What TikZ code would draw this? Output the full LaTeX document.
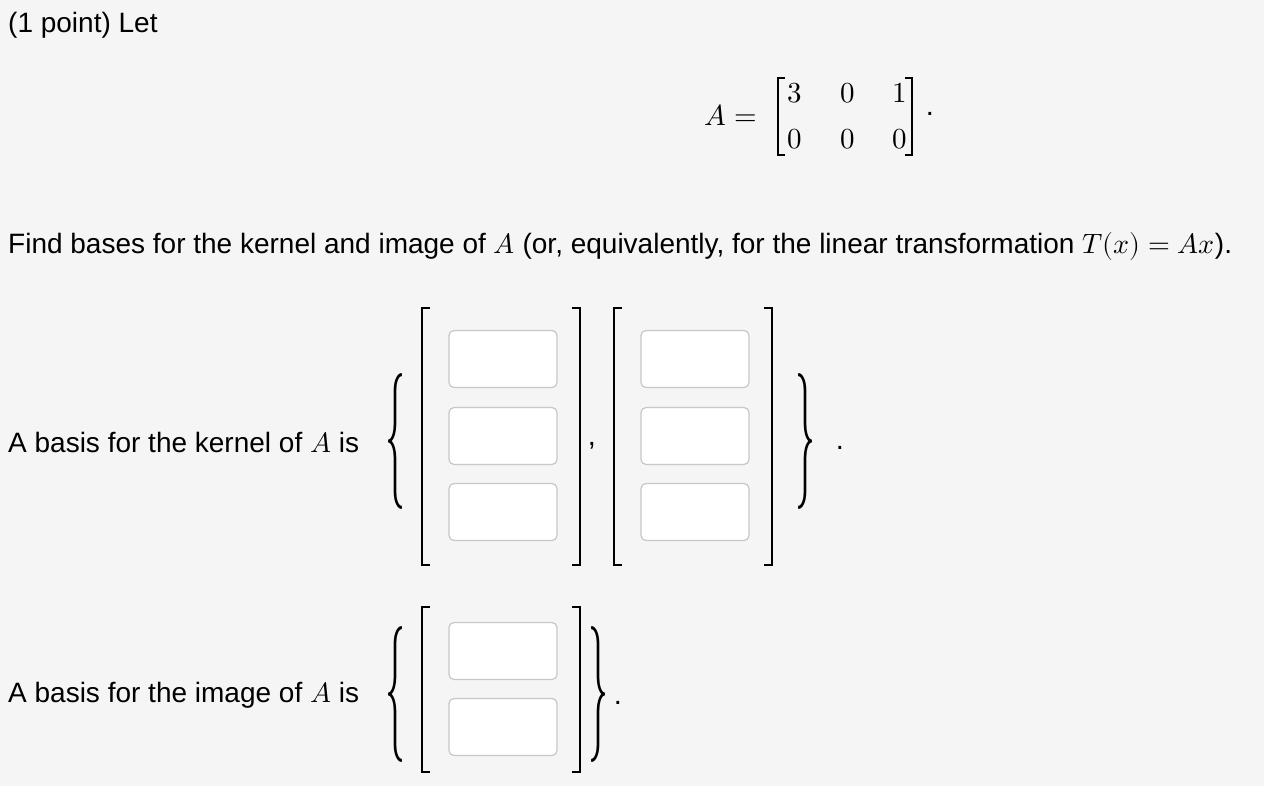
\documentclass[tikz,border=0pt]{standalone}
\usepackage{fontspec}
\setmainfont{Liberation Sans}
\usepackage{unicode-math}
\setmathfont{Latin Modern Math}
\usepackage{graphicx}
\begin{document}
\begin{tikzpicture}[x=1pt,y=-1pt,
  txt/.style={anchor=west,inner sep=0pt,font=\fontsize{28}{34}\selectfont},
  mtx/.style={inner sep=0pt,font=\fontsize{29}{34}\selectfont},
  ibox/.style={draw=black!22,fill=white,rounded corners=5pt,line width=1.2pt,minimum width=108pt,minimum height=57pt,inner sep=0pt},
  brk/.style={line width=1.3pt}]
\fill[fill=black!4] (0,0) rectangle (1264,786);
\useasboundingbox (0,0) rectangle (1264,786);
\node[txt] (t1) at (8,25) {(1 point) Let};
\node[mtx,anchor=east] (aeq) at (757,115) {$A =$};
\draw[brk] (785,78) -- (778,78) -- (778,155) -- (785,155);
\draw[brk] (905,78) -- (912,78) -- (912,155) -- (905,155);
\node[mtx] (m11) at (795,93) {$3$};
\node[mtx] (m12) at (848,93) {$0$};
\node[mtx] (m13) at (900,93) {$1$};
\node[mtx] (m21) at (795,139) {$0$};
\node[mtx] (m22) at (848,139) {$0$};
\node[mtx] (m23) at (900,139) {$0$};
\node[mtx] (p0) at (930,114) {.};
\node[txt] (t2) at (8,247) {Find bases for the kernel and image of $A$ (or, equivalently, for the linear transformation $T(x)=Ax$).};
% kernel
\node[txt] (kl) at (8,442) {A basis for the kernel of $A$ is};
\node[mtx] (kb1) at (395,441) {\resizebox{20pt}{102pt}{$\{$}};
\foreach \x in {0,192}{
  \draw[brk] (430+\x,308) -- (422+\x,308) -- (422+\x,565) -- (430+\x,565);
  \draw[brk] (572+\x,308) -- (580+\x,308) -- (580+\x,565) -- (572+\x,565);
}
\node[ibox] (k11) at (503,359) {};
\node[ibox] (k12) at (503,436) {};
\node[ibox] (k13) at (503,512) {};
\node[ibox] (k21) at (695,359) {};
\node[ibox] (k22) at (695,436) {};
\node[ibox] (k23) at (695,512) {};
\node[mtx] (kc) at (592,446) {,};
\node[mtx] (kb2) at (805,441) {\resizebox{20pt}{102pt}{$\}$}};
\node[mtx] (kp) at (840,448) {.};
% image
\node[txt] (il) at (8,695) {A basis for the image of $A$ is};
\node[mtx] (ib1) at (395,694) {\resizebox{20pt}{102pt}{$\{$}};
\draw[brk] (430,607) -- (422,607) -- (422,772) -- (430,772);
\draw[brk] (572,607) -- (580,607) -- (580,772) -- (572,772);
\node[ibox] (i1) at (503,651) {};
\node[ibox] (i2) at (503,727) {};
\node[mtx] (ib2) at (598,694) {\resizebox{20pt}{102pt}{$\}$}};
\node[mtx] (ip) at (618,703) {.};
\end{tikzpicture}
\end{document}
